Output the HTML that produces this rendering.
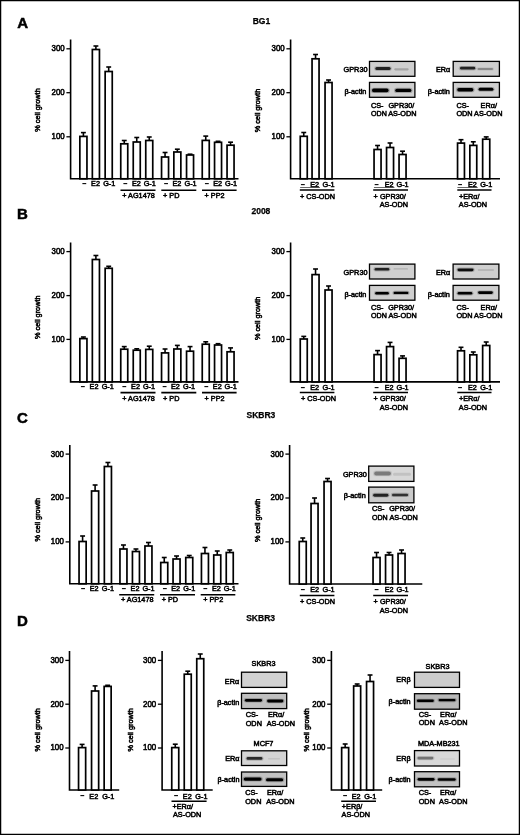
<!DOCTYPE html>
<html lang="en">
<head>
<meta charset="utf-8">
<title>Figure: cell growth in BG1, 2008 and SKBR3 cells</title>
<style>
html,body{margin:0;padding:0;background:#fff}
body{width:520px;height:835px;overflow:hidden}
svg{display:block}
text{font-family:"Liberation Sans",Arial,Helvetica,sans-serif;fill:#000;stroke:#000;stroke-width:.5px;paint-order:stroke}
line,.ax{stroke:#000;fill:none}
.ax{stroke-width:1.6}
.b{fill:#fff;stroke:#000;stroke-width:1.7}
.pl{stroke-width:.5px}
.tt{stroke-width:.25px}
</style>
</head>
<body>
<svg width="520" height="835" viewBox="0 0 520 835">
<defs><filter id="bl" x="-20%" y="-100%" width="140%" height="300%"><feGaussianBlur stdDeviation="0.7 0.5"/></filter></defs>
<rect x="0" y="0" width="520" height="835" fill="#fff" stroke="none"/>
<text x="17.3" y="28.1" font-size="15" font-weight="bold" class="pl">A</text>
<text x="261.4" y="23.8" font-size="8.5" text-anchor="middle" font-weight="bold" class="tt">BG1</text>
<g transform="translate(0 0)">
<path d="M70.6 39.5V178.8H238.5" class="ax"/>
<line x1="66.4" y1="48.8" x2="70.6" y2="48.8" stroke-width="1.3"/>
<text transform="translate(64.7 51.2) scale(1 1.05)" font-size="7.9" text-anchor="end" class="tk">300</text>
<line x1="66.4" y1="92.7" x2="70.6" y2="92.7" stroke-width="1.3"/>
<text transform="translate(64.7 95.1) scale(1 1.05)" font-size="7.9" text-anchor="end" class="tk">200</text>
<line x1="66.4" y1="136.8" x2="70.6" y2="136.8" stroke-width="1.3"/>
<text transform="translate(64.7 139.2) scale(1 1.05)" font-size="7.9" text-anchor="end" class="tk">100</text>
<text transform="translate(40.2 110.0) rotate(-90)" font-size="7.3" text-anchor="middle" class="tk">% cell growth</text>
<rect x="79.85" y="136.4" width="7.1" height="42.4" class="b"/>
<line x1="83.4" y1="136.4" x2="83.4" y2="132.6" stroke-width="1.6"/>
<line x1="80.95" y1="132.6" x2="85.85" y2="132.6" stroke-width="1.6"/>
<rect x="92.35" y="49.5" width="7.1" height="129.3" class="b"/>
<line x1="95.9" y1="49.5" x2="95.9" y2="46.0" stroke-width="1.6"/>
<line x1="93.45" y1="46.0" x2="98.35" y2="46.0" stroke-width="1.6"/>
<rect x="105.15" y="71.5" width="7.1" height="107.3" class="b"/>
<line x1="108.7" y1="71.5" x2="108.7" y2="67.0" stroke-width="1.6"/>
<line x1="106.25" y1="67.0" x2="111.15" y2="67.0" stroke-width="1.6"/>
<rect x="120.75" y="143.8" width="7.0" height="35.0" class="b"/>
<line x1="124.25" y1="143.8" x2="124.25" y2="140.5" stroke-width="1.6"/>
<line x1="121.8" y1="140.5" x2="126.7" y2="140.5" stroke-width="1.6"/>
<rect x="133.25" y="142.0" width="7.0" height="36.8" class="b"/>
<line x1="136.75" y1="142.0" x2="136.75" y2="137.5" stroke-width="1.6"/>
<line x1="134.3" y1="137.5" x2="139.2" y2="137.5" stroke-width="1.6"/>
<rect x="145.75" y="140.5" width="7.0" height="38.3" class="b"/>
<line x1="149.25" y1="140.5" x2="149.25" y2="137.0" stroke-width="1.6"/>
<line x1="146.8" y1="137.0" x2="151.7" y2="137.0" stroke-width="1.6"/>
<rect x="161.55" y="157.0" width="7.0" height="21.8" class="b"/>
<line x1="165.05" y1="157.0" x2="165.05" y2="152.5" stroke-width="1.6"/>
<line x1="162.6" y1="152.5" x2="167.5" y2="152.5" stroke-width="1.6"/>
<rect x="173.85" y="152.0" width="7.0" height="26.8" class="b"/>
<line x1="177.35" y1="152.0" x2="177.35" y2="149.2" stroke-width="1.6"/>
<line x1="174.9" y1="149.2" x2="179.8" y2="149.2" stroke-width="1.6"/>
<rect x="186.55" y="155.0" width="7.0" height="23.8" class="b"/>
<line x1="190.05" y1="155.0" x2="190.05" y2="154.2" stroke-width="1.6"/>
<line x1="187.6" y1="154.2" x2="192.5" y2="154.2" stroke-width="1.6"/>
<rect x="202.25" y="140.4" width="7.0" height="38.4" class="b"/>
<line x1="205.75" y1="140.4" x2="205.75" y2="136.1" stroke-width="1.6"/>
<line x1="203.3" y1="136.1" x2="208.2" y2="136.1" stroke-width="1.6"/>
<rect x="214.55" y="142.3" width="7.0" height="36.5" class="b"/>
<line x1="218.05" y1="142.3" x2="218.05" y2="141.3" stroke-width="1.6"/>
<line x1="215.6" y1="141.3" x2="220.5" y2="141.3" stroke-width="1.6"/>
<rect x="227.05" y="145.2" width="7.0" height="33.6" class="b"/>
<line x1="230.55" y1="145.2" x2="230.55" y2="142.2" stroke-width="1.6"/>
<line x1="228.1" y1="142.2" x2="233.0" y2="142.2" stroke-width="1.6"/>
</g>
<g transform="translate(0 0)">
<text transform="translate(84.3 186.0) scale(1 1.05)" font-size="6.8" text-anchor="middle">−</text>
<text transform="translate(95.5 186.3) scale(1 1.05)" font-size="7.3" text-anchor="middle">E2</text>
<text transform="translate(109.2 186.3) scale(1 1.05)" font-size="7.3" text-anchor="middle">G-1</text>
<text transform="translate(125.15 186.0) scale(1 1.05)" font-size="6.8" text-anchor="middle">−</text>
<text transform="translate(136.35 186.3) scale(1 1.05)" font-size="7.3" text-anchor="middle">E2</text>
<text transform="translate(149.75 186.3) scale(1 1.05)" font-size="7.3" text-anchor="middle">G-1</text>
<text transform="translate(165.95 186.0) scale(1 1.05)" font-size="6.8" text-anchor="middle">−</text>
<text transform="translate(176.95 186.3) scale(1 1.05)" font-size="7.3" text-anchor="middle">E2</text>
<text transform="translate(190.55 186.3) scale(1 1.05)" font-size="7.3" text-anchor="middle">G-1</text>
<text transform="translate(206.65 186.0) scale(1 1.05)" font-size="6.8" text-anchor="middle">−</text>
<text transform="translate(217.65 186.3) scale(1 1.05)" font-size="7.3" text-anchor="middle">E2</text>
<text transform="translate(231.05 186.3) scale(1 1.05)" font-size="7.3" text-anchor="middle">G-1</text>
<line x1="120.5" y1="190.2" x2="155.5" y2="190.2" stroke-width="1.6"/>
<text transform="translate(122.2 197.6) scale(1 1.05)" font-size="7.3">+ AG1478</text>
<line x1="161.3" y1="190.2" x2="196.3" y2="190.2" stroke-width="1.6"/>
<text transform="translate(163.0 197.6) scale(1 1.05)" font-size="7.3">+ PD</text>
<line x1="202.0" y1="190.2" x2="236.6" y2="190.2" stroke-width="1.6"/>
<text transform="translate(204.5 197.6) scale(1 1.05)" font-size="7.3">+ PP2</text>
</g>
<g transform="translate(0 0)">
<path d="M290.6 39.5V178.8H500" class="ax"/>
<line x1="286.4" y1="48.8" x2="290.6" y2="48.8" stroke-width="1.3"/>
<text transform="translate(284.7 51.2) scale(1 1.05)" font-size="7.9" text-anchor="end" class="tk">300</text>
<line x1="286.4" y1="92.7" x2="290.6" y2="92.7" stroke-width="1.3"/>
<text transform="translate(284.7 95.1) scale(1 1.05)" font-size="7.9" text-anchor="end" class="tk">200</text>
<line x1="286.4" y1="136.8" x2="290.6" y2="136.8" stroke-width="1.3"/>
<text transform="translate(284.7 139.2) scale(1 1.05)" font-size="7.9" text-anchor="end" class="tk">100</text>
<text transform="translate(260.2 110.5) rotate(-90)" font-size="7.3" text-anchor="middle" class="tk">% cell growth</text>
<rect x="300.25" y="136.3" width="7.0" height="42.5" class="b"/>
<line x1="303.75" y1="136.3" x2="303.75" y2="132.5" stroke-width="1.6"/>
<line x1="301.3" y1="132.5" x2="306.2" y2="132.5" stroke-width="1.6"/>
<rect x="312.05" y="58.8" width="7.0" height="120.0" class="b"/>
<line x1="315.55" y1="58.8" x2="315.55" y2="54.5" stroke-width="1.6"/>
<line x1="313.1" y1="54.5" x2="318.0" y2="54.5" stroke-width="1.6"/>
<rect x="325.05" y="82.5" width="7.0" height="96.3" class="b"/>
<line x1="328.55" y1="82.5" x2="328.55" y2="80.0" stroke-width="1.6"/>
<line x1="326.1" y1="80.0" x2="331.0" y2="80.0" stroke-width="1.6"/>
<rect x="374.05" y="149.5" width="7.0" height="29.3" class="b"/>
<line x1="377.55" y1="149.5" x2="377.55" y2="145.5" stroke-width="1.6"/>
<line x1="375.1" y1="145.5" x2="380.0" y2="145.5" stroke-width="1.6"/>
<rect x="386.55" y="147.5" width="7.0" height="31.3" class="b"/>
<line x1="390.05" y1="147.5" x2="390.05" y2="143.0" stroke-width="1.6"/>
<line x1="387.6" y1="143.0" x2="392.5" y2="143.0" stroke-width="1.6"/>
<rect x="399.05" y="154.5" width="7.0" height="24.3" class="b"/>
<line x1="402.55" y1="154.5" x2="402.55" y2="151.2" stroke-width="1.6"/>
<line x1="400.1" y1="151.2" x2="405.0" y2="151.2" stroke-width="1.6"/>
<rect x="457.55" y="143.1" width="6.9" height="35.7" class="b"/>
<line x1="461.0" y1="143.1" x2="461.0" y2="139.7" stroke-width="1.6"/>
<line x1="458.55" y1="139.7" x2="463.45" y2="139.7" stroke-width="1.6"/>
<rect x="469.85" y="145.4" width="6.9" height="33.4" class="b"/>
<line x1="473.3" y1="145.4" x2="473.3" y2="141.8" stroke-width="1.6"/>
<line x1="470.85" y1="141.8" x2="475.75" y2="141.8" stroke-width="1.6"/>
<rect x="482.65" y="139.2" width="7.1" height="39.6" class="b"/>
<line x1="486.2" y1="139.2" x2="486.2" y2="136.9" stroke-width="1.6"/>
<line x1="483.75" y1="136.9" x2="488.65" y2="136.9" stroke-width="1.6"/>
</g>
<g transform="translate(0 0)">
<text transform="translate(302.75 187.4) scale(1 1.05)" font-size="6.8" text-anchor="middle">−</text>
<text transform="translate(314.65 186.7) scale(1 1.05)" font-size="7.3" text-anchor="middle">E2</text>
<text transform="translate(328.55 186.7) scale(1 1.05)" font-size="7.3" text-anchor="middle">G-1</text>
<line x1="300.15" y1="187.5" x2="319.95" y2="187.5" stroke-width="0.6"/>
<text transform="translate(376.55 187.4) scale(1 1.05)" font-size="6.8" text-anchor="middle">−</text>
<text transform="translate(389.15 186.7) scale(1 1.05)" font-size="7.3" text-anchor="middle">E2</text>
<text transform="translate(402.55 186.7) scale(1 1.05)" font-size="7.3" text-anchor="middle">G-1</text>
<line x1="373.95" y1="187.5" x2="394.45" y2="187.5" stroke-width="0.6"/>
<text transform="translate(460.0 187.4) scale(1 1.05)" font-size="6.8" text-anchor="middle">−</text>
<text transform="translate(472.4 186.7) scale(1 1.05)" font-size="7.3" text-anchor="middle">E2</text>
<text transform="translate(486.2 186.7) scale(1 1.05)" font-size="7.3" text-anchor="middle">G-1</text>
<line x1="457.4" y1="187.5" x2="477.7" y2="187.5" stroke-width="0.6"/>
<line x1="299.8" y1="190.0" x2="334.4" y2="190.0" stroke-width="1.6"/>
<text transform="translate(300.0 198.8) scale(1 1.05)" font-size="7.3">+ CS-ODN</text>
<line x1="373.2" y1="190.0" x2="408" y2="190.0" stroke-width="1.6"/>
<text transform="translate(373.6 198.8) scale(1 1.05)" font-size="7.3">+ GPR30/</text>
<text transform="translate(379.7 207.4) scale(1 1.05)" font-size="7.3">AS-ODN</text>
<line x1="457.3" y1="190.0" x2="491.5" y2="190.0" stroke-width="1.6"/>
<text transform="translate(459.0 198.8) scale(1 1.05)" font-size="7.3">+ERα/</text>
<text transform="translate(458.8 207.2) scale(1 1.05)" font-size="7.3">AS-ODN</text>
</g>
<rect x="369.5" y="61.4" width="45.4" height="14.9" fill="#cfcfcf" stroke="none"/>
<rect x="374.1" y="66.2" width="17.7" height="4.8" rx="2.4" fill="#222" opacity="0.22" filter="url(#bl)"/>
<rect x="375.3" y="67.1" width="15.3" height="3.0" rx="1.5" fill="#222" opacity="1" filter="url(#bl)"/>
<rect x="394.2" y="68.2" width="14.5" height="2.2" rx="1.1" fill="#888" opacity="0.6" filter="url(#bl)"/>
<rect x="369.5" y="61.4" width="45.4" height="14.9" fill="none" stroke="#000" stroke-width="1.3"/>
<rect x="369.5" y="82.4" width="45.4" height="14.9" fill="#cfcfcf" stroke="none"/>
<rect x="370.8" y="87.7" width="19.0" height="5.4" rx="2.7" fill="#000" opacity="0.22" filter="url(#bl)"/>
<rect x="372" y="88.6" width="16.6" height="3.6" rx="1.8" fill="#000" opacity="1" filter="url(#bl)"/>
<rect x="394.0" y="87.8" width="18.6" height="5.2" rx="2.6" fill="#000" opacity="0.22" filter="url(#bl)"/>
<rect x="395.2" y="88.7" width="16.2" height="3.4" rx="1.7" fill="#000" opacity="1" filter="url(#bl)"/>
<rect x="369.5" y="82.4" width="45.4" height="14.9" fill="none" stroke="#000" stroke-width="1.3"/>
<text transform="translate(343.6 72.0) scale(1 1.05)" font-size="7.3">GPR30</text>
<text transform="translate(344.4 94.0) scale(1 1.05)" font-size="7.3">β-actin</text>
<text transform="translate(371.0 107.5) scale(1 1.05)" font-size="7.3">CS-</text>
<text transform="translate(371.0 116.1) scale(1 1.05)" font-size="7.3" textLength="15.8" lengthAdjust="spacingAndGlyphs">ODN</text>
<text transform="translate(388.4 107.5) scale(1 1.05)" font-size="7.3">GPR30/</text>
<text transform="translate(388.2 116.1) scale(1 1.05)" font-size="7.3">AS-ODN</text>
<rect x="453.2" y="61.4" width="46.2" height="14.9" fill="#cfcfcf" stroke="none"/>
<rect x="458.8" y="65.9" width="17.6" height="4.6" rx="2.3" fill="#222" opacity="0.22" filter="url(#bl)"/>
<rect x="460.0" y="66.8" width="15.2" height="2.8" rx="1.4" fill="#222" opacity="1" filter="url(#bl)"/>
<rect x="476.4" y="67.2" width="17.8" height="3.6" rx="1.8" fill="#777" opacity="0.17" filter="url(#bl)"/>
<rect x="477.6" y="68.1" width="15.4" height="1.8" rx="0.9" fill="#777" opacity="0.75" filter="url(#bl)"/>
<rect x="453.2" y="61.4" width="46.2" height="14.9" fill="none" stroke="#000" stroke-width="1.3"/>
<rect x="453.2" y="82.4" width="46.2" height="14.9" fill="#cfcfcf" stroke="none"/>
<rect x="456.0" y="87.1" width="18.6" height="5.2" rx="2.6" fill="#000" opacity="0.22" filter="url(#bl)"/>
<rect x="457.2" y="88.0" width="16.2" height="3.4" rx="1.7" fill="#000" opacity="1" filter="url(#bl)"/>
<rect x="477.4" y="86.9" width="17.2" height="4.8" rx="2.4" fill="#000" opacity="0.22" filter="url(#bl)"/>
<rect x="478.6" y="87.8" width="14.8" height="3.0" rx="1.5" fill="#000" opacity="1" filter="url(#bl)"/>
<rect x="453.2" y="82.4" width="46.2" height="14.9" fill="none" stroke="#000" stroke-width="1.3"/>
<text transform="translate(435.9 72.0) scale(1 1.05)" font-size="7.3">ERα</text>
<text transform="translate(427.8 94.0) scale(1 1.05)" font-size="7.3">β-actin</text>
<text transform="translate(456.4 107.5) scale(1 1.05)" font-size="7.3">CS-</text>
<text transform="translate(456.4 116.1) scale(1 1.05)" font-size="7.3">ODN</text>
<text transform="translate(480.6 107.5) scale(1 1.05)" font-size="7.3">ERα/</text>
<text transform="translate(474.1 116.1) scale(1 1.05)" font-size="7.3">AS-ODN</text>
<text x="17.1" y="218.5" font-size="15" font-weight="bold" class="pl">B</text>
<text x="260.9" y="213.8" font-size="8.5" text-anchor="middle" font-weight="bold" class="tt">2008</text>
<g transform="translate(0 0)">
<path d="M70.6 242.5V381.9H238.5" class="ax"/>
<line x1="66.4" y1="251.6" x2="70.6" y2="251.6" stroke-width="1.3"/>
<text transform="translate(64.7 254.0) scale(1 1.05)" font-size="7.9" text-anchor="end" class="tk">300</text>
<line x1="66.4" y1="295.6" x2="70.6" y2="295.6" stroke-width="1.3"/>
<text transform="translate(64.7 298.0) scale(1 1.05)" font-size="7.9" text-anchor="end" class="tk">200</text>
<line x1="66.4" y1="339.4" x2="70.6" y2="339.4" stroke-width="1.3"/>
<text transform="translate(64.7 341.8) scale(1 1.05)" font-size="7.9" text-anchor="end" class="tk">100</text>
<text transform="translate(40.2 317.2) rotate(-90)" font-size="7.3" text-anchor="middle" class="tk">% cell growth</text>
<rect x="79.85" y="338.6" width="7.1" height="43.3" class="b"/>
<line x1="83.4" y1="338.6" x2="83.4" y2="337.0" stroke-width="1.6"/>
<line x1="80.95" y1="337.0" x2="85.85" y2="337.0" stroke-width="1.6"/>
<rect x="92.35" y="259.5" width="7.1" height="122.4" class="b"/>
<line x1="95.9" y1="259.5" x2="95.9" y2="255.5" stroke-width="1.6"/>
<line x1="93.45" y1="255.5" x2="98.35" y2="255.5" stroke-width="1.6"/>
<rect x="105.15" y="268.3" width="7.1" height="113.6" class="b"/>
<line x1="108.7" y1="268.3" x2="108.7" y2="266.3" stroke-width="1.6"/>
<line x1="106.25" y1="266.3" x2="111.15" y2="266.3" stroke-width="1.6"/>
<rect x="120.75" y="349.2" width="7.0" height="32.7" class="b"/>
<line x1="124.25" y1="349.2" x2="124.25" y2="346.6" stroke-width="1.6"/>
<line x1="121.8" y1="346.6" x2="126.7" y2="346.6" stroke-width="1.6"/>
<rect x="133.25" y="350.2" width="7.0" height="31.7" class="b"/>
<line x1="136.75" y1="350.2" x2="136.75" y2="348.8" stroke-width="1.6"/>
<line x1="134.3" y1="348.8" x2="139.2" y2="348.8" stroke-width="1.6"/>
<rect x="145.75" y="349.4" width="7.0" height="32.5" class="b"/>
<line x1="149.25" y1="349.4" x2="149.25" y2="346.2" stroke-width="1.6"/>
<line x1="146.8" y1="346.2" x2="151.7" y2="346.2" stroke-width="1.6"/>
<rect x="161.55" y="352.9" width="7.0" height="29.0" class="b"/>
<line x1="165.05" y1="352.9" x2="165.05" y2="349.0" stroke-width="1.6"/>
<line x1="162.6" y1="349.0" x2="167.5" y2="349.0" stroke-width="1.6"/>
<rect x="173.85" y="349.0" width="7.0" height="32.9" class="b"/>
<line x1="177.35" y1="349.0" x2="177.35" y2="345.4" stroke-width="1.6"/>
<line x1="174.9" y1="345.4" x2="179.8" y2="345.4" stroke-width="1.6"/>
<rect x="186.55" y="351.2" width="7.0" height="30.7" class="b"/>
<line x1="190.05" y1="351.2" x2="190.05" y2="346.6" stroke-width="1.6"/>
<line x1="187.6" y1="346.6" x2="192.5" y2="346.6" stroke-width="1.6"/>
<rect x="202.25" y="344.2" width="7.0" height="37.7" class="b"/>
<line x1="205.75" y1="344.2" x2="205.75" y2="341.8" stroke-width="1.6"/>
<line x1="203.3" y1="341.8" x2="208.2" y2="341.8" stroke-width="1.6"/>
<rect x="214.55" y="345.0" width="7.0" height="36.9" class="b"/>
<line x1="218.05" y1="345.0" x2="218.05" y2="343.7" stroke-width="1.6"/>
<line x1="215.6" y1="343.7" x2="220.5" y2="343.7" stroke-width="1.6"/>
<rect x="227.05" y="351.8" width="7.0" height="30.1" class="b"/>
<line x1="230.55" y1="351.8" x2="230.55" y2="347.9" stroke-width="1.6"/>
<line x1="228.1" y1="347.9" x2="233.0" y2="347.9" stroke-width="1.6"/>
</g>
<g transform="translate(0 0)">
<text transform="translate(82.8 388.8) scale(1 1.05)" font-size="6.8" text-anchor="middle">−</text>
<text transform="translate(94.0 389.1) scale(1 1.05)" font-size="7.3" text-anchor="middle">E2</text>
<text transform="translate(107.7 389.1) scale(1 1.05)" font-size="7.3" text-anchor="middle">G-1</text>
<text transform="translate(124.35 388.8) scale(1 1.05)" font-size="6.8" text-anchor="middle">−</text>
<text transform="translate(135.55 389.1) scale(1 1.05)" font-size="7.3" text-anchor="middle">E2</text>
<text transform="translate(148.95 389.1) scale(1 1.05)" font-size="7.3" text-anchor="middle">G-1</text>
<text transform="translate(164.45 388.8) scale(1 1.05)" font-size="6.8" text-anchor="middle">−</text>
<text transform="translate(175.45 389.1) scale(1 1.05)" font-size="7.3" text-anchor="middle">E2</text>
<text transform="translate(189.05 389.1) scale(1 1.05)" font-size="7.3" text-anchor="middle">G-1</text>
<text transform="translate(206.25 388.8) scale(1 1.05)" font-size="6.8" text-anchor="middle">−</text>
<text transform="translate(217.25 389.1) scale(1 1.05)" font-size="7.3" text-anchor="middle">E2</text>
<text transform="translate(230.65 389.1) scale(1 1.05)" font-size="7.3" text-anchor="middle">G-1</text>
<line x1="120.5" y1="392.6" x2="155.5" y2="392.6" stroke-width="1.6"/>
<text transform="translate(122.2 400.5) scale(1 1.05)" font-size="7.3">+ AG1478</text>
<line x1="161.3" y1="392.6" x2="196.3" y2="392.6" stroke-width="1.6"/>
<text transform="translate(163.0 400.5) scale(1 1.05)" font-size="7.3">+ PD</text>
<line x1="202.0" y1="392.6" x2="236.6" y2="392.6" stroke-width="1.6"/>
<text transform="translate(204.5 400.5) scale(1 1.05)" font-size="7.3">+ PP2</text>
</g>
<g transform="translate(0 0)">
<path d="M290.6 242.5V381.9H500" class="ax"/>
<line x1="286.4" y1="251.6" x2="290.6" y2="251.6" stroke-width="1.3"/>
<text transform="translate(284.7 254.0) scale(1 1.05)" font-size="7.9" text-anchor="end" class="tk">300</text>
<line x1="286.4" y1="295.6" x2="290.6" y2="295.6" stroke-width="1.3"/>
<text transform="translate(284.7 298.0) scale(1 1.05)" font-size="7.9" text-anchor="end" class="tk">200</text>
<line x1="286.4" y1="339.4" x2="290.6" y2="339.4" stroke-width="1.3"/>
<text transform="translate(284.7 341.8) scale(1 1.05)" font-size="7.9" text-anchor="end" class="tk">100</text>
<text transform="translate(260.2 318.4) rotate(-90)" font-size="7.3" text-anchor="middle" class="tk">% cell growth</text>
<rect x="300.25" y="339.0" width="7.0" height="42.9" class="b"/>
<line x1="303.75" y1="339.0" x2="303.75" y2="336.4" stroke-width="1.6"/>
<line x1="301.3" y1="336.4" x2="306.2" y2="336.4" stroke-width="1.6"/>
<rect x="312.05" y="274.6" width="7.0" height="107.3" class="b"/>
<line x1="315.55" y1="274.6" x2="315.55" y2="269.0" stroke-width="1.6"/>
<line x1="313.1" y1="269.0" x2="318.0" y2="269.0" stroke-width="1.6"/>
<rect x="325.05" y="290.0" width="7.0" height="91.9" class="b"/>
<line x1="328.55" y1="290.0" x2="328.55" y2="286.0" stroke-width="1.6"/>
<line x1="326.1" y1="286.0" x2="331.0" y2="286.0" stroke-width="1.6"/>
<rect x="374.05" y="354.6" width="7.0" height="27.3" class="b"/>
<line x1="377.55" y1="354.6" x2="377.55" y2="350.6" stroke-width="1.6"/>
<line x1="375.1" y1="350.6" x2="380.0" y2="350.6" stroke-width="1.6"/>
<rect x="386.55" y="346.6" width="7.0" height="35.3" class="b"/>
<line x1="390.05" y1="346.6" x2="390.05" y2="342.4" stroke-width="1.6"/>
<line x1="387.6" y1="342.4" x2="392.5" y2="342.4" stroke-width="1.6"/>
<rect x="399.05" y="358.3" width="7.0" height="23.6" class="b"/>
<line x1="402.55" y1="358.3" x2="402.55" y2="355.9" stroke-width="1.6"/>
<line x1="400.1" y1="355.9" x2="405.0" y2="355.9" stroke-width="1.6"/>
<rect x="457.55" y="350.8" width="6.9" height="31.1" class="b"/>
<line x1="461.0" y1="350.8" x2="461.0" y2="347.3" stroke-width="1.6"/>
<line x1="458.55" y1="347.3" x2="463.45" y2="347.3" stroke-width="1.6"/>
<rect x="469.85" y="354.8" width="6.9" height="27.1" class="b"/>
<line x1="473.3" y1="354.8" x2="473.3" y2="352.0" stroke-width="1.6"/>
<line x1="470.85" y1="352.0" x2="475.75" y2="352.0" stroke-width="1.6"/>
<rect x="482.65" y="345.5" width="7.1" height="36.4" class="b"/>
<line x1="486.2" y1="345.5" x2="486.2" y2="342.0" stroke-width="1.6"/>
<line x1="483.75" y1="342.0" x2="488.65" y2="342.0" stroke-width="1.6"/>
</g>
<g transform="translate(0 0)">
<text transform="translate(302.75 389.6) scale(1 1.05)" font-size="6.8" text-anchor="middle">−</text>
<text transform="translate(314.65 389.5) scale(1 1.05)" font-size="7.3" text-anchor="middle">E2</text>
<text transform="translate(328.55 389.5) scale(1 1.05)" font-size="7.3" text-anchor="middle">G-1</text>
<text transform="translate(376.55 389.6) scale(1 1.05)" font-size="6.8" text-anchor="middle">−</text>
<text transform="translate(389.15 389.5) scale(1 1.05)" font-size="7.3" text-anchor="middle">E2</text>
<text transform="translate(402.55 389.5) scale(1 1.05)" font-size="7.3" text-anchor="middle">G-1</text>
<text transform="translate(460.0 389.6) scale(1 1.05)" font-size="6.8" text-anchor="middle">−</text>
<text transform="translate(472.4 389.5) scale(1 1.05)" font-size="7.3" text-anchor="middle">E2</text>
<text transform="translate(486.2 389.5) scale(1 1.05)" font-size="7.3" text-anchor="middle">G-1</text>
<line x1="299.8" y1="392.5" x2="334.4" y2="392.5" stroke-width="1.6"/>
<text transform="translate(301.0 401.3) scale(1 1.05)" font-size="7.3">+ CS-ODN</text>
<line x1="373.2" y1="392.5" x2="408" y2="392.5" stroke-width="1.6"/>
<text transform="translate(373.6 401.3) scale(1 1.05)" font-size="7.3">+ GPR30/</text>
<text transform="translate(379.7 409.9) scale(1 1.05)" font-size="7.3">AS-ODN</text>
<line x1="457.3" y1="392.5" x2="491.5" y2="392.5" stroke-width="1.6"/>
<text transform="translate(459.0 401.3) scale(1 1.05)" font-size="7.3">+ERα/</text>
<text transform="translate(458.8 409.7) scale(1 1.05)" font-size="7.3">AS-ODN</text>
</g>
<rect x="369.5" y="264.1" width="45.4" height="14.9" fill="#cfcfcf" stroke="none"/>
<rect x="373.4" y="267.1" width="17.1" height="4.4" rx="2.2" fill="#222" opacity="0.22" filter="url(#bl)"/>
<rect x="374.6" y="268.0" width="14.7" height="2.6" rx="1.3" fill="#222" opacity="1" filter="url(#bl)"/>
<rect x="393.5" y="268.2" width="14.5" height="1.4" rx="0.7" fill="#999" opacity="0.6" filter="url(#bl)"/>
<rect x="369.5" y="264.1" width="45.4" height="14.9" fill="none" stroke="#000" stroke-width="1.3"/>
<rect x="369.5" y="285.4" width="45.4" height="14.8" fill="#cfcfcf" stroke="none"/>
<rect x="374.0" y="291.1" width="16.0" height="4.2" rx="2.1" fill="#000" opacity="0.22" filter="url(#bl)"/>
<rect x="375.2" y="292.0" width="13.6" height="2.4" rx="1.2" fill="#000" opacity="1" filter="url(#bl)"/>
<rect x="392.4" y="290.8" width="17.2" height="4.2" rx="2.1" fill="#000" opacity="0.22" filter="url(#bl)"/>
<rect x="393.6" y="291.7" width="14.8" height="2.4" rx="1.2" fill="#000" opacity="1" filter="url(#bl)"/>
<rect x="369.5" y="285.4" width="45.4" height="14.8" fill="none" stroke="#000" stroke-width="1.3"/>
<text transform="translate(343.6 274.9) scale(1 1.05)" font-size="7.3">GPR30</text>
<text transform="translate(344.4 297.0) scale(1 1.05)" font-size="7.3">β-actin</text>
<text transform="translate(371.0 309.6) scale(1 1.05)" font-size="7.3">CS-</text>
<text transform="translate(371.0 318.1) scale(1 1.05)" font-size="7.3" textLength="15.8" lengthAdjust="spacingAndGlyphs">ODN</text>
<text transform="translate(388.2 309.6) scale(1 1.05)" font-size="7.3">GPR30/</text>
<text transform="translate(388.4 318.1) scale(1 1.05)" font-size="7.3">AS-ODN</text>
<rect x="453.1" y="264.1" width="45.8" height="14.9" fill="#cfcfcf" stroke="none"/>
<rect x="456.3" y="267.5" width="18.4" height="4.6" rx="2.3" fill="#111" opacity="0.22" filter="url(#bl)"/>
<rect x="457.5" y="268.4" width="16.0" height="2.8" rx="1.4" fill="#111" opacity="1" filter="url(#bl)"/>
<rect x="477.7" y="269.2" width="16.3" height="1.6" rx="0.8" fill="#999" opacity="0.6" filter="url(#bl)"/>
<rect x="453.1" y="264.1" width="45.8" height="14.9" fill="none" stroke="#000" stroke-width="1.3"/>
<rect x="453.1" y="285.4" width="45.8" height="14.8" fill="#cfcfcf" stroke="none"/>
<rect x="456.4" y="291.0" width="17.1" height="4.4" rx="2.2" fill="#000" opacity="0.22" filter="url(#bl)"/>
<rect x="457.6" y="291.9" width="14.7" height="2.6" rx="1.3" fill="#000" opacity="1" filter="url(#bl)"/>
<rect x="476.9" y="290.4" width="17.1" height="4.4" rx="2.2" fill="#000" opacity="0.22" filter="url(#bl)"/>
<rect x="478.1" y="291.3" width="14.7" height="2.6" rx="1.3" fill="#000" opacity="1" filter="url(#bl)"/>
<rect x="453.1" y="285.4" width="45.8" height="14.8" fill="none" stroke="#000" stroke-width="1.3"/>
<text transform="translate(435.9 274.9) scale(1 1.05)" font-size="7.3">ERα</text>
<text transform="translate(427.8 297.0) scale(1 1.05)" font-size="7.3">β-actin</text>
<text transform="translate(456.4 309.6) scale(1 1.05)" font-size="7.3">CS-</text>
<text transform="translate(456.4 318.1) scale(1 1.05)" font-size="7.3">ODN</text>
<text transform="translate(480.6 309.6) scale(1 1.05)" font-size="7.3">ERα/</text>
<text transform="translate(474.1 318.1) scale(1 1.05)" font-size="7.3">AS-ODN</text>
<text x="17.0" y="422.5" font-size="15" font-weight="bold" class="pl">C</text>
<text x="260.9" y="417.5" font-size="8.5" text-anchor="middle" font-weight="bold" class="tt">SKBR3</text>
<g transform="translate(-0.8 0)">
<path d="M70.6 445.0V583.8H239.3" class="ax"/>
<line x1="66.4" y1="454.1" x2="70.6" y2="454.1" stroke-width="1.3"/>
<text transform="translate(64.7 456.5) scale(1 1.05)" font-size="7.9" text-anchor="end" class="tk">300</text>
<line x1="66.4" y1="498.0" x2="70.6" y2="498.0" stroke-width="1.3"/>
<text transform="translate(64.7 500.4) scale(1 1.05)" font-size="7.9" text-anchor="end" class="tk">200</text>
<line x1="66.4" y1="541.9" x2="70.6" y2="541.9" stroke-width="1.3"/>
<text transform="translate(64.7 544.3) scale(1 1.05)" font-size="7.9" text-anchor="end" class="tk">100</text>
<text transform="translate(41.0 519.7) rotate(-90)" font-size="7.3" text-anchor="middle" class="tk">% cell growth</text>
<rect x="79.85" y="541.5" width="7.1" height="42.3" class="b"/>
<line x1="83.4" y1="541.5" x2="83.4" y2="536.0" stroke-width="1.6"/>
<line x1="80.95" y1="536.0" x2="85.85" y2="536.0" stroke-width="1.6"/>
<rect x="92.35" y="491.0" width="7.1" height="92.8" class="b"/>
<line x1="95.9" y1="491.0" x2="95.9" y2="485.0" stroke-width="1.6"/>
<line x1="93.45" y1="485.0" x2="98.35" y2="485.0" stroke-width="1.6"/>
<rect x="105.15" y="466.5" width="7.1" height="117.3" class="b"/>
<line x1="108.7" y1="466.5" x2="108.7" y2="462.5" stroke-width="1.6"/>
<line x1="106.25" y1="462.5" x2="111.15" y2="462.5" stroke-width="1.6"/>
<rect x="120.75" y="549.0" width="7.0" height="34.8" class="b"/>
<line x1="124.25" y1="549.0" x2="124.25" y2="545.0" stroke-width="1.6"/>
<line x1="121.8" y1="545.0" x2="126.7" y2="545.0" stroke-width="1.6"/>
<rect x="133.25" y="551.5" width="7.0" height="32.3" class="b"/>
<line x1="136.75" y1="551.5" x2="136.75" y2="549.0" stroke-width="1.6"/>
<line x1="134.3" y1="549.0" x2="139.2" y2="549.0" stroke-width="1.6"/>
<rect x="145.75" y="546.0" width="7.0" height="37.8" class="b"/>
<line x1="149.25" y1="546.0" x2="149.25" y2="542.5" stroke-width="1.6"/>
<line x1="146.8" y1="542.5" x2="151.7" y2="542.5" stroke-width="1.6"/>
<rect x="161.55" y="562.5" width="7.0" height="21.3" class="b"/>
<line x1="165.05" y1="562.5" x2="165.05" y2="557.5" stroke-width="1.6"/>
<line x1="162.6" y1="557.5" x2="167.5" y2="557.5" stroke-width="1.6"/>
<rect x="173.85" y="559.0" width="7.0" height="24.8" class="b"/>
<line x1="177.35" y1="559.0" x2="177.35" y2="556.0" stroke-width="1.6"/>
<line x1="174.9" y1="556.0" x2="179.8" y2="556.0" stroke-width="1.6"/>
<rect x="186.55" y="557.5" width="7.0" height="26.3" class="b"/>
<line x1="190.05" y1="557.5" x2="190.05" y2="555.5" stroke-width="1.6"/>
<line x1="187.6" y1="555.5" x2="192.5" y2="555.5" stroke-width="1.6"/>
<rect x="202.25" y="553.5" width="7.0" height="30.3" class="b"/>
<line x1="205.75" y1="553.5" x2="205.75" y2="547.5" stroke-width="1.6"/>
<line x1="203.3" y1="547.5" x2="208.2" y2="547.5" stroke-width="1.6"/>
<rect x="214.55" y="555.0" width="7.0" height="28.8" class="b"/>
<line x1="218.05" y1="555.0" x2="218.05" y2="551.0" stroke-width="1.6"/>
<line x1="215.6" y1="551.0" x2="220.5" y2="551.0" stroke-width="1.6"/>
<rect x="227.05" y="552.5" width="7.0" height="31.3" class="b"/>
<line x1="230.55" y1="552.5" x2="230.55" y2="550.0" stroke-width="1.6"/>
<line x1="228.1" y1="550.0" x2="233.0" y2="550.0" stroke-width="1.6"/>
</g>
<g transform="translate(-1.3 0)">
<text transform="translate(84.3 590.9) scale(1 1.05)" font-size="6.8" text-anchor="middle">−</text>
<text transform="translate(95.5 591.2) scale(1 1.05)" font-size="7.3" text-anchor="middle">E2</text>
<text transform="translate(109.2 591.2) scale(1 1.05)" font-size="7.3" text-anchor="middle">G-1</text>
<text transform="translate(125.15 590.9) scale(1 1.05)" font-size="6.8" text-anchor="middle">−</text>
<text transform="translate(136.35 591.2) scale(1 1.05)" font-size="7.3" text-anchor="middle">E2</text>
<text transform="translate(149.75 591.2) scale(1 1.05)" font-size="7.3" text-anchor="middle">G-1</text>
<text transform="translate(165.95 590.9) scale(1 1.05)" font-size="6.8" text-anchor="middle">−</text>
<text transform="translate(176.95 591.2) scale(1 1.05)" font-size="7.3" text-anchor="middle">E2</text>
<text transform="translate(190.55 591.2) scale(1 1.05)" font-size="7.3" text-anchor="middle">G-1</text>
<text transform="translate(206.65 590.9) scale(1 1.05)" font-size="6.8" text-anchor="middle">−</text>
<text transform="translate(217.65 591.2) scale(1 1.05)" font-size="7.3" text-anchor="middle">E2</text>
<text transform="translate(231.05 591.2) scale(1 1.05)" font-size="7.3" text-anchor="middle">G-1</text>
<line x1="120.5" y1="594.8" x2="155.5" y2="594.8" stroke-width="1.6"/>
<text transform="translate(122.2 602.4) scale(1 1.05)" font-size="7.3">+ AG1478</text>
<line x1="161.3" y1="594.8" x2="196.3" y2="594.8" stroke-width="1.6"/>
<text transform="translate(163.0 602.4) scale(1 1.05)" font-size="7.3">+ PD</text>
<line x1="202.0" y1="594.8" x2="236.6" y2="594.8" stroke-width="1.6"/>
<text transform="translate(204.5 602.4) scale(1 1.05)" font-size="7.3">+ PP2</text>
</g>
<g transform="translate(-1.0 0)">
<path d="M290.6 445.0V584.0H423.3" class="ax"/>
<line x1="286.4" y1="454.1" x2="290.6" y2="454.1" stroke-width="1.3"/>
<text transform="translate(284.7 456.5) scale(1 1.05)" font-size="7.9" text-anchor="end" class="tk">300</text>
<line x1="286.4" y1="498.0" x2="290.6" y2="498.0" stroke-width="1.3"/>
<text transform="translate(284.7 500.4) scale(1 1.05)" font-size="7.9" text-anchor="end" class="tk">200</text>
<line x1="286.4" y1="541.9" x2="290.6" y2="541.9" stroke-width="1.3"/>
<text transform="translate(284.7 544.3) scale(1 1.05)" font-size="7.9" text-anchor="end" class="tk">100</text>
<text transform="translate(261.2 520.3) rotate(-90)" font-size="7.3" text-anchor="middle" class="tk">% cell growth</text>
<rect x="300.25" y="541.5" width="7.0" height="42.5" class="b"/>
<line x1="303.75" y1="541.5" x2="303.75" y2="538.0" stroke-width="1.6"/>
<line x1="301.3" y1="538.0" x2="306.2" y2="538.0" stroke-width="1.6"/>
<rect x="312.05" y="503.5" width="7.0" height="80.5" class="b"/>
<line x1="315.55" y1="503.5" x2="315.55" y2="498.0" stroke-width="1.6"/>
<line x1="313.1" y1="498.0" x2="318.0" y2="498.0" stroke-width="1.6"/>
<rect x="325.05" y="481.5" width="7.0" height="102.5" class="b"/>
<line x1="328.55" y1="481.5" x2="328.55" y2="478.5" stroke-width="1.6"/>
<line x1="326.1" y1="478.5" x2="331.0" y2="478.5" stroke-width="1.6"/>
<rect x="374.05" y="557.5" width="7.0" height="26.5" class="b"/>
<line x1="377.55" y1="557.5" x2="377.55" y2="552.5" stroke-width="1.6"/>
<line x1="375.1" y1="552.5" x2="380.0" y2="552.5" stroke-width="1.6"/>
<rect x="386.55" y="555.0" width="7.0" height="29.0" class="b"/>
<line x1="390.05" y1="555.0" x2="390.05" y2="552.5" stroke-width="1.6"/>
<line x1="387.6" y1="552.5" x2="392.5" y2="552.5" stroke-width="1.6"/>
<rect x="399.05" y="553.5" width="7.0" height="30.5" class="b"/>
<line x1="402.55" y1="553.5" x2="402.55" y2="550.0" stroke-width="1.6"/>
<line x1="400.1" y1="550.0" x2="405.0" y2="550.0" stroke-width="1.6"/>
</g>
<g transform="translate(0 0)">
<text transform="translate(302.75 592.3) scale(1 1.05)" font-size="6.8" text-anchor="middle">−</text>
<text transform="translate(314.65 592.2) scale(1 1.05)" font-size="7.3" text-anchor="middle">E2</text>
<text transform="translate(328.55 592.2) scale(1 1.05)" font-size="7.3" text-anchor="middle">G-1</text>
<text transform="translate(376.55 592.3) scale(1 1.05)" font-size="6.8" text-anchor="middle">−</text>
<text transform="translate(389.15 592.2) scale(1 1.05)" font-size="7.3" text-anchor="middle">E2</text>
<text transform="translate(402.55 592.2) scale(1 1.05)" font-size="7.3" text-anchor="middle">G-1</text>
<line x1="299.8" y1="595.5" x2="334.4" y2="595.5" stroke-width="1.6"/>
<text transform="translate(300.0 604.3) scale(1 1.05)" font-size="7.3">+ CS-ODN</text>
<line x1="373.2" y1="595.5" x2="408" y2="595.5" stroke-width="1.6"/>
<text transform="translate(373.6 604.3) scale(1 1.05)" font-size="7.3">+ GPR30/</text>
<text transform="translate(379.7 612.9) scale(1 1.05)" font-size="7.3">AS-ODN</text>
</g>
<rect x="368.7" y="466.1" width="45.2" height="15.3" fill="#d8d8d8" stroke="none"/>
<rect x="373.0" y="470.5" width="19.1" height="5.8" rx="2.9" fill="#6a6a6a" opacity="0.18" filter="url(#bl)"/>
<rect x="374.2" y="471.4" width="16.7" height="4.0" rx="2.0" fill="#6a6a6a" opacity="0.8" filter="url(#bl)"/>
<rect x="393.0" y="472.7" width="18.0" height="3.0" rx="1.5" fill="#b4b4b4" opacity="0.6" filter="url(#bl)"/>
<rect x="368.7" y="466.1" width="45.2" height="15.3" fill="none" stroke="#000" stroke-width="1.3"/>
<rect x="368.7" y="487.1" width="45.2" height="15.7" fill="#cacaca" stroke="none"/>
<rect x="372.0" y="492.85" width="17.6" height="4.7" rx="2.35" fill="#222" opacity="0.22" filter="url(#bl)"/>
<rect x="373.2" y="493.75" width="15.2" height="2.9" rx="1.45" fill="#222" opacity="1" filter="url(#bl)"/>
<rect x="390.8" y="492.75" width="18.5" height="4.3" rx="2.15" fill="#333" opacity="0.22" filter="url(#bl)"/>
<rect x="392.0" y="493.65" width="16.1" height="2.5" rx="1.25" fill="#333" opacity="1" filter="url(#bl)"/>
<rect x="368.7" y="487.1" width="45.2" height="15.7" fill="none" stroke="#000" stroke-width="1.3"/>
<text transform="translate(342.9 477.2) scale(1 1.05)" font-size="7.3">GPR30</text>
<text transform="translate(343.7 498.0) scale(1 1.05)" font-size="7.3">β-actin</text>
<text transform="translate(371.9 510.8) scale(1 1.05)" font-size="7.3">CS-</text>
<text transform="translate(371.9 519.8) scale(1 1.05)" font-size="7.3" textLength="15.8" lengthAdjust="spacingAndGlyphs">ODN</text>
<text transform="translate(389.2 510.8) scale(1 1.05)" font-size="7.3">GPR30/</text>
<text transform="translate(389.5 519.8) scale(1 1.05)" font-size="7.3">AS-ODN</text>
<text x="17.1" y="625.8" font-size="15" font-weight="bold" class="pl">D</text>
<text x="260.6" y="621.2" font-size="8.5" text-anchor="middle" font-weight="bold" class="tt">SKBR3</text>
<path d="M69.5 651.0V790.0H119.2" class="ax"/>
<line x1="65.3" y1="660.4" x2="69.5" y2="660.4" stroke-width="1.3"/>
<text transform="translate(63.6 662.8) scale(1 1.05)" font-size="7.9" text-anchor="end" class="tk">300</text>
<line x1="65.3" y1="704.2" x2="69.5" y2="704.2" stroke-width="1.3"/>
<text transform="translate(63.6 706.6) scale(1 1.05)" font-size="7.9" text-anchor="end" class="tk">200</text>
<line x1="65.3" y1="748.0" x2="69.5" y2="748.0" stroke-width="1.3"/>
<text transform="translate(63.6 750.4) scale(1 1.05)" font-size="7.9" text-anchor="end" class="tk">100</text>
<text transform="translate(40.0 729.8) rotate(-90)" font-size="7.3" text-anchor="middle" class="tk">% cell growth</text>
<rect x="78.55" y="747.6" width="7.1" height="42.4" class="b"/>
<line x1="82.1" y1="747.6" x2="82.1" y2="744.4" stroke-width="1.6"/>
<line x1="79.65" y1="744.4" x2="84.55" y2="744.4" stroke-width="1.6"/>
<rect x="91.55" y="691.0" width="7.1" height="99.0" class="b"/>
<line x1="95.1" y1="691.0" x2="95.1" y2="685.9" stroke-width="1.6"/>
<line x1="92.65" y1="685.9" x2="97.55" y2="685.9" stroke-width="1.6"/>
<rect x="104.15" y="686.4" width="7.0" height="103.6" class="b"/>
<line x1="107.65" y1="686.4" x2="107.65" y2="685.3" stroke-width="1.6"/>
<line x1="105.2" y1="685.3" x2="110.1" y2="685.3" stroke-width="1.6"/>
<text transform="translate(82.2 798.2) scale(1 1.05)" font-size="6.8" text-anchor="middle">−</text>
<text transform="translate(93.8 798.5) scale(1 1.05)" font-size="7.3" text-anchor="middle">E2</text>
<text transform="translate(108.2 798.5) scale(1 1.05)" font-size="7.3" text-anchor="middle">G-1</text>
<path d="M162.1 651.0V790.0H212.7" class="ax"/>
<line x1="157.9" y1="660.4" x2="162.1" y2="660.4" stroke-width="1.3"/>
<text transform="translate(156.2 662.8) scale(1 1.05)" font-size="7.9" text-anchor="end" class="tk">300</text>
<line x1="157.9" y1="704.2" x2="162.1" y2="704.2" stroke-width="1.3"/>
<text transform="translate(156.2 706.6) scale(1 1.05)" font-size="7.9" text-anchor="end" class="tk">200</text>
<line x1="157.9" y1="748.0" x2="162.1" y2="748.0" stroke-width="1.3"/>
<text transform="translate(156.2 750.4) scale(1 1.05)" font-size="7.9" text-anchor="end" class="tk">100</text>
<text transform="translate(132.7 729.8) rotate(-90)" font-size="7.3" text-anchor="middle" class="tk">% cell growth</text>
<rect x="171.75" y="747.6" width="7.0" height="42.4" class="b"/>
<line x1="175.25" y1="747.6" x2="175.25" y2="744.2" stroke-width="1.6"/>
<line x1="172.8" y1="744.2" x2="177.7" y2="744.2" stroke-width="1.6"/>
<rect x="184.25" y="674.2" width="7.0" height="115.8" class="b"/>
<line x1="187.75" y1="674.2" x2="187.75" y2="671.2" stroke-width="1.6"/>
<line x1="185.3" y1="671.2" x2="190.2" y2="671.2" stroke-width="1.6"/>
<rect x="196.75" y="658.7" width="7.0" height="131.3" class="b"/>
<line x1="200.25" y1="658.7" x2="200.25" y2="654.0" stroke-width="1.6"/>
<line x1="197.8" y1="654.0" x2="202.7" y2="654.0" stroke-width="1.6"/>
<text transform="translate(176.1 798.2) scale(1 1.05)" font-size="6.8" text-anchor="middle">−</text>
<text transform="translate(187.3 798.5) scale(1 1.05)" font-size="7.3" text-anchor="middle">E2</text>
<text transform="translate(201.4 798.5) scale(1 1.05)" font-size="7.3" text-anchor="middle">G-1</text>
<line x1="171.5" y1="801.2" x2="206.6" y2="801.2" stroke-width="1.6"/>
<text transform="translate(172.5 809.2) scale(1 1.05)" font-size="7.3">+ERα/</text>
<text transform="translate(173.0 817.3) scale(1 1.05)" font-size="7.3">AS-ODN</text>
<path d="M331.4 651.0V790.0H382.2" class="ax"/>
<line x1="327.2" y1="660.4" x2="331.4" y2="660.4" stroke-width="1.3"/>
<text transform="translate(325.5 662.8) scale(1 1.05)" font-size="7.9" text-anchor="end" class="tk">300</text>
<line x1="327.2" y1="704.2" x2="331.4" y2="704.2" stroke-width="1.3"/>
<text transform="translate(325.5 706.6) scale(1 1.05)" font-size="7.9" text-anchor="end" class="tk">200</text>
<line x1="327.2" y1="748.0" x2="331.4" y2="748.0" stroke-width="1.3"/>
<text transform="translate(325.5 750.4) scale(1 1.05)" font-size="7.9" text-anchor="end" class="tk">100</text>
<text transform="translate(308.9 729.8) rotate(-90)" font-size="7.3" text-anchor="middle" class="tk">% cell growth</text>
<rect x="341.65" y="747.6" width="7.0" height="42.4" class="b"/>
<line x1="345.15" y1="747.6" x2="345.15" y2="744.0" stroke-width="1.6"/>
<line x1="342.7" y1="744.0" x2="347.6" y2="744.0" stroke-width="1.6"/>
<rect x="353.65" y="686.0" width="7.0" height="104.0" class="b"/>
<line x1="357.15" y1="686.0" x2="357.15" y2="684.0" stroke-width="1.6"/>
<line x1="354.7" y1="684.0" x2="359.6" y2="684.0" stroke-width="1.6"/>
<rect x="366.55" y="681.5" width="7.0" height="108.5" class="b"/>
<line x1="370.05" y1="681.5" x2="370.05" y2="675.0" stroke-width="1.6"/>
<line x1="367.6" y1="675.0" x2="372.5" y2="675.0" stroke-width="1.6"/>
<text transform="translate(344.9 798.2) scale(1 1.05)" font-size="6.8" text-anchor="middle">−</text>
<text transform="translate(356.1 798.5) scale(1 1.05)" font-size="7.3" text-anchor="middle">E2</text>
<text transform="translate(370.2 798.5) scale(1 1.05)" font-size="7.3" text-anchor="middle">G-1</text>
<line x1="341.2" y1="801.2" x2="376" y2="801.2" stroke-width="1.6"/>
<text transform="translate(341.8 809.2) scale(1 1.05)" font-size="7.3">+ERβ/</text>
<text transform="translate(341.6 817.3) scale(1 1.05)" font-size="7.3">AS-ODN</text>
<text transform="translate(263.5 666.1) scale(1 1.05)" font-size="7.3" text-anchor="middle">SKBR3</text>
<rect x="241.5" y="672.2" width="45.2" height="15.2" fill="#d2d2d2" stroke="none"/>
<rect x="241.5" y="672.2" width="45.2" height="15.2" fill="none" stroke="#000" stroke-width="1.3"/>
<rect x="241.5" y="693.3" width="45.2" height="15.3" fill="#c0c0c0" stroke="none"/>
<rect x="243.7" y="698.05" width="19.5" height="4.5" rx="2.25" fill="#000" opacity="0.22" filter="url(#bl)"/>
<rect x="244.9" y="698.95" width="17.1" height="2.7" rx="1.35" fill="#000" opacity="1" filter="url(#bl)"/>
<rect x="265.9" y="698.65" width="18.7" height="4.7" rx="2.35" fill="#000" opacity="0.22" filter="url(#bl)"/>
<rect x="267.1" y="699.55" width="16.3" height="2.9" rx="1.45" fill="#000" opacity="1" filter="url(#bl)"/>
<rect x="241.5" y="693.3" width="45.2" height="15.3" fill="none" stroke="#000" stroke-width="1.3"/>
<text transform="translate(239.2 683.9) scale(1 1.05)" font-size="7.3" text-anchor="end">ERα</text>
<text transform="translate(239.2 704.7) scale(1 1.05)" font-size="7.3" text-anchor="end">β-actin</text>
<text transform="translate(245.7 716.9) scale(1 1.05)" font-size="7.3">CS-</text>
<text transform="translate(245.7 725.6) scale(1 1.05)" font-size="7.3">ODN</text>
<text transform="translate(267.9 716.9) scale(1 1.05)" font-size="7.3">ERα/</text>
<text transform="translate(266.7 725.6) scale(1 1.05)" font-size="7.3">AS-ODN</text>
<text transform="translate(263.5 746.1) scale(1 1.05)" font-size="7.3" text-anchor="middle">MCF7</text>
<rect x="241.5" y="750.8" width="45.2" height="14.7" fill="#d4d4d4" stroke="none"/>
<rect x="245.4" y="756.15" width="18.2" height="4.5" rx="2.25" fill="#222" opacity="0.21" filter="url(#bl)"/>
<rect x="246.6" y="757.05" width="15.8" height="2.7" rx="1.35" fill="#222" opacity="0.95" filter="url(#bl)"/>
<rect x="268" y="758.1" width="12" height="1.4" rx="0.7" fill="#aaa" opacity="0.4" filter="url(#bl)"/>
<rect x="241.5" y="750.8" width="45.2" height="14.7" fill="none" stroke="#000" stroke-width="1.3"/>
<rect x="241.5" y="772.0" width="45.2" height="14.4" fill="#c2c2c2" stroke="none"/>
<rect x="242.5" y="776.6" width="20.3" height="5.0" rx="2.5" fill="#000" opacity="0.22" filter="url(#bl)"/>
<rect x="243.7" y="777.5" width="17.9" height="3.2" rx="1.6" fill="#000" opacity="1" filter="url(#bl)"/>
<rect x="264.8" y="777.25" width="19.6" height="4.9" rx="2.45" fill="#000" opacity="0.22" filter="url(#bl)"/>
<rect x="266.0" y="778.15" width="17.2" height="3.1" rx="1.55" fill="#000" opacity="1" filter="url(#bl)"/>
<rect x="241.5" y="772.0" width="45.2" height="14.4" fill="none" stroke="#000" stroke-width="1.3"/>
<text transform="translate(239.5 760.8) scale(1 1.05)" font-size="7.3" text-anchor="end">ERα</text>
<text transform="translate(239.5 781.9) scale(1 1.05)" font-size="7.3" text-anchor="end">β-actin</text>
<text transform="translate(245.2 795.4) scale(1 1.05)" font-size="7.3">CS-</text>
<text transform="translate(245.2 803.9) scale(1 1.05)" font-size="7.3">ODN</text>
<text transform="translate(267.0 795.4) scale(1 1.05)" font-size="7.3">ERα/</text>
<text transform="translate(266.2 803.9) scale(1 1.05)" font-size="7.3">AS-ODN</text>
<text transform="translate(437.5 668.8) scale(1 1.05)" font-size="7.3" text-anchor="middle">SKBR3</text>
<rect x="414.5" y="672.2" width="45.0" height="15.2" fill="#cdcdcd" stroke="none"/>
<rect x="414.5" y="672.2" width="45.0" height="15.2" fill="none" stroke="#000" stroke-width="1.3"/>
<rect x="414.5" y="693.7" width="45.0" height="15.5" fill="#b8b8b8" stroke="none"/>
<rect x="415.7" y="698.7" width="19.3" height="4.2" rx="2.1" fill="#000" opacity="0.22" filter="url(#bl)"/>
<rect x="416.9" y="699.6" width="16.9" height="2.4" rx="1.2" fill="#000" opacity="1" filter="url(#bl)"/>
<rect x="437.4" y="698.0" width="19.3" height="4.2" rx="2.1" fill="#000" opacity="0.22" filter="url(#bl)"/>
<rect x="438.6" y="698.9" width="16.9" height="2.4" rx="1.2" fill="#000" opacity="1" filter="url(#bl)"/>
<rect x="414.5" y="693.7" width="45.0" height="15.5" fill="none" stroke="#000" stroke-width="1.3"/>
<text transform="translate(410.6 681.6) scale(1 1.05)" font-size="7.3" text-anchor="end">ERβ</text>
<text transform="translate(410.6 703.9) scale(1 1.05)" font-size="7.3" text-anchor="end">β-actin</text>
<text transform="translate(418.7 716.6) scale(1 1.05)" font-size="7.3">CS-</text>
<text transform="translate(418.7 725.2) scale(1 1.05)" font-size="7.3">ODN</text>
<text transform="translate(440.1 716.6) scale(1 1.05)" font-size="7.3">ERα/</text>
<text transform="translate(439.1 725.2) scale(1 1.05)" font-size="7.3">AS-ODN</text>
<text transform="translate(438.8 745.8) scale(1 1.05)" font-size="7.3" text-anchor="middle">MDA-MB231</text>
<rect x="414.5" y="750.6" width="45.0" height="15.4" fill="#d8d8d8" stroke="none"/>
<rect x="416.2" y="755.9" width="18.4" height="4.4" rx="2.2" fill="#666" opacity="0.19" filter="url(#bl)"/>
<rect x="417.4" y="756.8" width="16.0" height="2.6" rx="1.3" fill="#666" opacity="0.85" filter="url(#bl)"/>
<rect x="440" y="758.2" width="15" height="1.6" rx="0.8" fill="#bbb" opacity="0.35" filter="url(#bl)"/>
<rect x="414.5" y="750.6" width="45.0" height="15.4" fill="none" stroke="#000" stroke-width="1.3"/>
<rect x="414.5" y="771.7" width="45.0" height="15.1" fill="#c2c2c2" stroke="none"/>
<rect x="416.4" y="777.05" width="19.3" height="4.5" rx="2.25" fill="#000" opacity="0.22" filter="url(#bl)"/>
<rect x="417.6" y="777.95" width="16.9" height="2.7" rx="1.35" fill="#000" opacity="1" filter="url(#bl)"/>
<rect x="436.6" y="777.25" width="20.3" height="4.5" rx="2.25" fill="#000" opacity="0.22" filter="url(#bl)"/>
<rect x="437.8" y="778.15" width="17.9" height="2.7" rx="1.35" fill="#000" opacity="1" filter="url(#bl)"/>
<rect x="414.5" y="771.7" width="45.0" height="15.1" fill="none" stroke="#000" stroke-width="1.3"/>
<text transform="translate(410.6 761.3) scale(1 1.05)" font-size="7.3" text-anchor="end">ERβ</text>
<text transform="translate(410.6 781.9) scale(1 1.05)" font-size="7.3" text-anchor="end">β-actin</text>
<text transform="translate(418.7 795.4) scale(1 1.05)" font-size="7.3">CS-</text>
<text transform="translate(418.7 803.9) scale(1 1.05)" font-size="7.3">ODN</text>
<text transform="translate(440.0 795.4) scale(1 1.05)" font-size="7.3">ERα/</text>
<text transform="translate(439.1 803.9) scale(1 1.05)" font-size="7.3">AS-ODN</text>
<rect x="0" y="0" width="520" height="835" fill="none" stroke="#000" stroke-width="2.5"/>
</svg>
</body>
</html>
